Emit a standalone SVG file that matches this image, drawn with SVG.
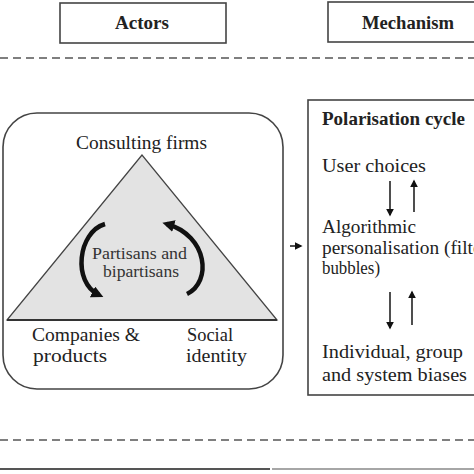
<svg xmlns="http://www.w3.org/2000/svg" width="474" height="474" viewBox="0 0 474 474">
<defs>
<style>
text{font-family:"Liberation Serif","Times New Roman",serif;fill:#222;font-size:19px}
.b{font-weight:bold}
.box{fill:#fff;stroke:#444;stroke-width:1.6}
.dash{stroke:#555;stroke-width:1.6;stroke-dasharray:8 5;fill:none}
.thin{stroke:#222;stroke-width:1.6;fill:none}
.thick{stroke:#111;stroke-width:4.5;fill:none}
.inner{fill:#333;font-size:17px}
</style>
<marker id="ah" viewBox="0 0 10 10" refX="8" refY="5" markerWidth="8" markerHeight="8" markerUnits="userSpaceOnUse" orient="auto"><path d="M0,0 L10,5 L0,10 z" fill="#111"/></marker>
<marker id="ahb" viewBox="0 0 10 10" refX="6" refY="5" markerWidth="12" markerHeight="12" markerUnits="userSpaceOnUse" orient="auto"><path d="M0,0 L10,5 L0,10 z" fill="#111"/></marker>
</defs>
<rect width="474" height="474" fill="#fff"/>
<g id="actors-header">
<rect class="box" x="60" y="3" width="166" height="40"/>
<text class="b" x="142" y="29" text-anchor="middle" textLength="54" lengthAdjust="spacingAndGlyphs" style="font-size:18px">Actors</text>
</g>
<g id="mechanism-header">
<rect class="box" x="328" y="2" width="160" height="40"/>
<text class="b" x="408" y="29" text-anchor="middle" textLength="92" lengthAdjust="spacingAndGlyphs" style="font-size:18px">Mechanism</text>
</g>
<g id="separators">
<line class="dash" x1="0" y1="58" x2="474" y2="58"/>
<line class="dash" x1="0" y1="440" x2="474" y2="440"/>
<line x1="0" y1="469" x2="270" y2="469" stroke="#555" stroke-width="2"/>
<line x1="272" y1="469" x2="474" y2="469" stroke="#888" stroke-width="1.5"/>
</g>
<g id="actors">
<rect x="3" y="113" width="280" height="276" rx="34" ry="34" fill="#fff" stroke="#444" stroke-width="1.6"/>
<polygon points="142,155 7,320 277,320" fill="#e3e3e3" stroke="#444" stroke-width="1.2"/>
<line x1="7" y1="320" x2="277" y2="320" stroke="#333" stroke-width="2"/>
<text x="76" y="149" textLength="131" lengthAdjust="spacingAndGlyphs">Consulting firms</text>
<text class="inner" x="92" y="259" textLength="95" lengthAdjust="spacingAndGlyphs">Partisans and</text>
<text class="inner" x="103" y="277" textLength="76" lengthAdjust="spacingAndGlyphs">bipartisans</text>
<text x="32" y="341" textLength="108" lengthAdjust="spacingAndGlyphs">Companies &amp;</text>
<text x="33" y="362" textLength="74" lengthAdjust="spacingAndGlyphs">products</text>
<text x="187" y="341" textLength="46" lengthAdjust="spacingAndGlyphs">Social</text>
<text x="186" y="362" textLength="61" lengthAdjust="spacingAndGlyphs">identity</text>
</g>
<g id="mechanism">
<rect class="box" x="308" y="100" width="180" height="295"/>
<text class="b" x="322" y="125" style="font-size:19px">Polarisation cycle</text>
<text x="322" y="172" textLength="104" lengthAdjust="spacingAndGlyphs">User choices</text>
<text x="322" y="233" textLength="94" lengthAdjust="spacingAndGlyphs">Algorithmic</text>
<text x="322" y="254" textLength="166" lengthAdjust="spacingAndGlyphs">personalisation (filter</text>
<text x="322" y="274" textLength="58" lengthAdjust="spacingAndGlyphs">bubbles)</text>
<text x="322" y="358" textLength="141" lengthAdjust="spacingAndGlyphs">Individual, group</text>
<text x="322" y="381" textLength="145" lengthAdjust="spacingAndGlyphs">and system biases</text>
</g>
<g id="connectors">
<path class="thick" d="M105,224 C78,232 72,282 99,295" marker-end="url(#ahb)"/>
<path class="thick" d="M187,294 C212,282 208,236 167,224" marker-end="url(#ahb)"/>
<line class="thin" x1="290" y1="246" x2="301" y2="246" marker-end="url(#ah)"/>
<line class="thin" x1="390" y1="181" x2="390" y2="215" marker-end="url(#ah)"/>
<line class="thin" x1="414" y1="212" x2="414" y2="181" marker-end="url(#ah)"/>
<line class="thin" x1="390" y1="292" x2="390" y2="328" marker-end="url(#ah)"/>
<line class="thin" x1="412" y1="325" x2="412" y2="292" marker-end="url(#ah)"/>
</g>
</svg>
